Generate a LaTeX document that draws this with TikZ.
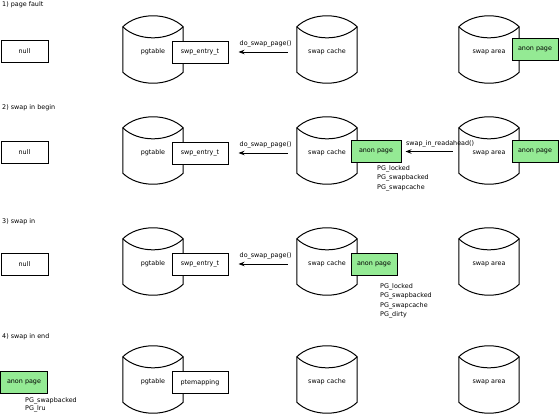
\documentclass[tikz,border=0pt]{standalone}
\usepackage{fontspec}
\setmainfont{DejaVu Sans}
\usetikzlibrary{arrows.meta}
\definecolor{anongreen}{RGB}{148,234,148}
\tikzset{
  lbl/.style={font=\fontsize{6.4}{7.5}\selectfont, inner sep=0pt},
  title/.style={lbl, anchor=west},
  box/.style={draw=black, line width=1pt, fill=white, minimum height=22pt,
    inner sep=0pt, font=\fontsize{6.4}{7.5}\selectfont},
  greenbox/.style={box, fill=anongreen},
  cylbody/.style={minimum width=60pt, minimum height=45pt, inner sep=0pt},
  cylline/.style={line width=1pt},
  flow/.style={line width=1pt, -{Stealth[length=6pt,width=4.5pt]}},
  flags/.style={font=\fontsize{6.4}{9.4}\selectfont, align=left, inner sep=0pt, anchor=north west},
}
% name, left x, top y (corner), label
\newcommand\mycyl[4]{%
  \node[cylbody] (#1) at (#2+30,#3+22.5) {};
  \draw[cylline] (#1.north west) .. controls +(15,-14.7) and +(-15,-14.7) .. (#1.north east)
     -- (#1.south east) .. controls +(-15,14.7) and +(15,14.7) .. (#1.south west) -- cycle;
  \draw[cylline] (#1.north west) .. controls +(15,14.7) and +(-15,14.7) .. (#1.north east);
  \node[lbl] (#1t) at (#2+30,#3+25) {#4};
}
\begin{document}
\begin{tikzpicture}[x=1pt,y=-1pt]
\useasboundingbox[fill=white] (0,0) rectangle (560,415);

% ---------- row 1 ----------
\node[title] (t1) at (2,5) {1) page fault};
\node[box, minimum width=47pt] (null1) at (24.5,51) {null};
\mycyl{pg1}{123}{27}{pgtable}
\node[box, minimum width=56pt] (entry1) at (200,52) {swp\_entry\_t};
\mycyl{cache1}{297}{27}{swap cache}
\mycyl{area1}{459}{27}{swap area}
\node[greenbox, minimum width=46pt] (aanon1) at (535,49) {anon page};
\draw[flow, shorten <=9pt, shorten >=10pt] (entry1.east -| cache1.west) -- (entry1.east)
  node[lbl, midway, above=4pt, xshift=3pt] {do\_swap\_page()};

% ---------- row 2 ----------
\node[title] (t2) at (2,108) {2) swap in begin};
\node[box, minimum width=47pt] (null2) at (24.5,152) {null};
\mycyl{pg2}{123}{128}{pgtable}
\node[box, minimum width=56pt] (entry2) at (200,153) {swp\_entry\_t};
\mycyl{cache2}{297}{128}{swap cache}
\mycyl{area2}{459}{128}{swap area}
\node[greenbox, minimum width=50pt] (canon2) at (376,151.5) {anon page};
\node[greenbox, minimum width=46pt] (aanon2) at (535,151) {anon page};
\draw[flow, shorten <=9pt, shorten >=10pt] (entry2.east -| cache2.west) -- (entry2.east)
  node[lbl, midway, above=4pt, xshift=3pt] {do\_swap\_page()};
\draw[flow, shorten <=6pt, shorten >=4pt] (canon2.east -| area2.west) -- (canon2.east)
  node[lbl, midway, above=4pt, xshift=10pt] {swap\_in\_readahead()};
\node[flags] (f2) at (377,165.5) {PG\_locked\\PG\_swapbacked\\PG\_swapcache};

% ---------- row 3 ----------
\node[title] (t3) at (2,222) {3) swap in};
\node[box, minimum width=47pt] (null3) at (24.5,264) {null};
\mycyl{pg3}{123}{239}{pgtable}
\node[box, minimum width=56pt] (entry3) at (200,264) {swp\_entry\_t};
\mycyl{cache3}{297}{239}{swap cache}
\mycyl{area3}{459}{239}{swap area}
\node[greenbox, minimum width=46pt] (canon3) at (374,264) {anon page};
\draw[flow, shorten <=9pt, shorten >=10pt] (entry3.east -| cache3.west) -- (entry3.east)
  node[lbl, midway, above=4pt, xshift=3pt] {do\_swap\_page()};
\node[flags] (f3) at (380,283.5) {PG\_locked\\PG\_swapbacked\\PG\_swapcache\\PG\_dirty};

% ---------- row 4 ----------
\node[title] (t4) at (2,337) {4) swap in end};
\node[greenbox, minimum width=47pt] (anon4) at (24,382) {anon page};
\node[flags, font=\fontsize{6.4}{8.4}\selectfont] (f4) at (25,397.5) {PG\_swapbacked\\PG\_lru};
\mycyl{pg4}{123}{357}{pgtable}
\node[box, minimum width=56pt] (pte4) at (200,382.5) {ptemapping};
\mycyl{cache4}{297}{357}{swap cache}
\mycyl{area4}{459}{357}{swap area}
\end{tikzpicture}
\end{document}
